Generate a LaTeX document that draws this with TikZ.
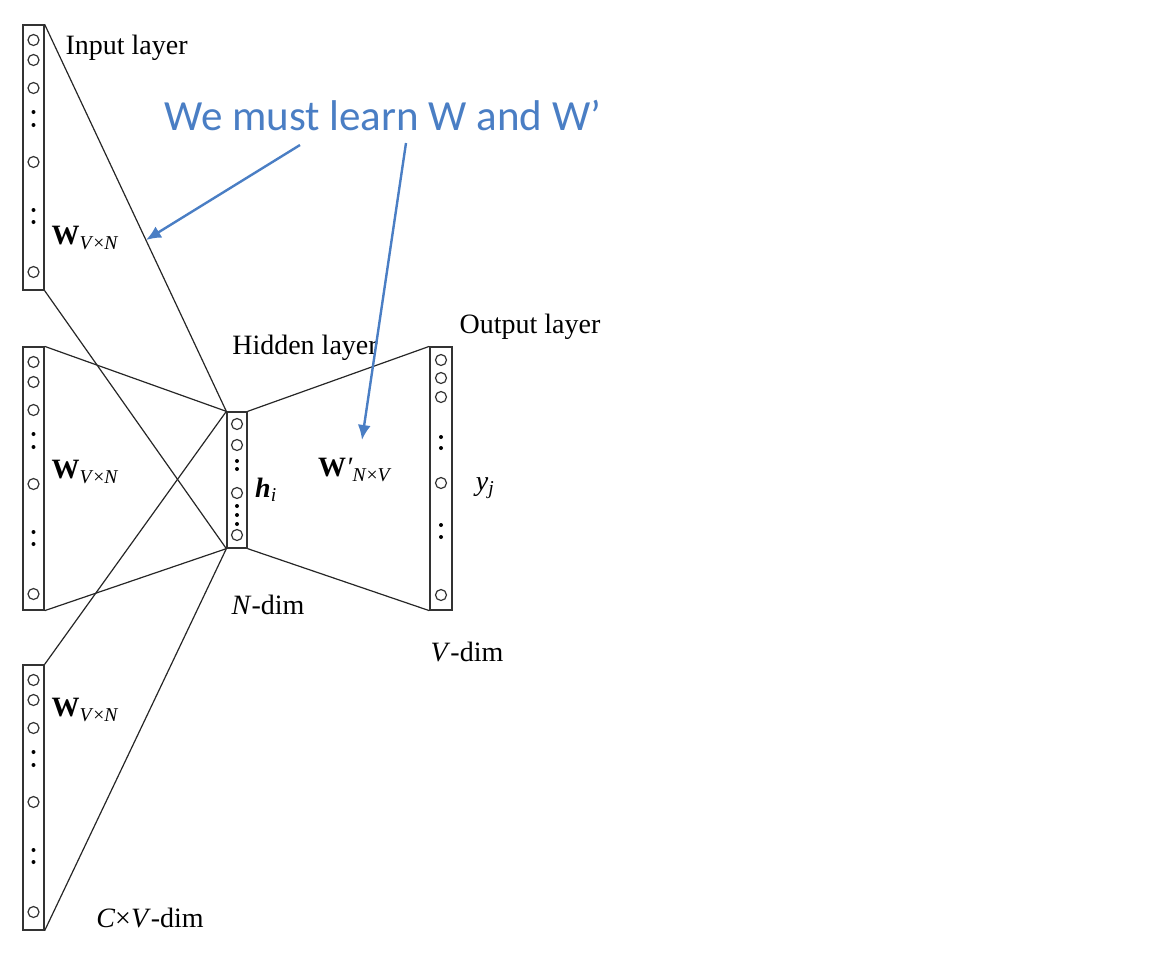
\documentclass[tikz,border=0pt]{standalone}
\usepackage{fontspec}
\setmainfont{Liberation Serif}
\newfontfamily\calib{Carlito}
\usetikzlibrary{arrows.meta}
\definecolor{lblue}{RGB}{74,126,196}
\begin{document}
\begin{tikzpicture}[x=1pt,y=-1pt,
  col/.style={draw=black!80,line width=1.3pt},
  neur/.style={draw=black!80,line width=1.2pt,circle,inner sep=0pt,minimum size=11pt},
  dt/.style={fill,circle,inner sep=0pt,minimum size=4pt},
  wire/.style={line width=1.2pt,draw=black!85},
  lbl/.style={font=\fontsize{28}{32}\selectfont},
  barrow/.style={draw=lblue,line width=2.4pt,-{Latex[length=15pt,width=13pt]}},
  ]
\useasboundingbox (0,0) rectangle (1160,962);
% columns
\node[col,minimum width=21pt,minimum height=265pt,inner sep=0pt] (in1) at (33.5,157.5) {};
\node[col,minimum width=21pt,minimum height=263pt,inner sep=0pt] (in2) at (33.5,478.5) {};
\node[col,minimum width=21pt,minimum height=265pt,inner sep=0pt] (in3) at (33.5,797.5) {};
\node[col,minimum width=20pt,minimum height=136pt,inner sep=0pt] (hid) at (237,480) {};
\node[col,minimum width=22pt,minimum height=263pt,inner sep=0pt] (out) at (441,478.5) {};
% neurons in input columns
\foreach \c/\o in {a/0,b/322,c/640}{
  \foreach \y in {40,60,88,162,272} \node[neur] at (33.5,\y+\o) {};
  \foreach \y in {112,125,210,222} \node[dt] at (33.5,\y+\o) {};
}
\foreach \y in {360,378,397,483,595} \node[neur] at (441,\y) {};
\foreach \y in {437,448,525,537} \node[dt] at (441,\y) {};
\foreach \y in {424,445,493,535} \node[neur] at (237,\y) {};
\foreach \y in {461,469,506,515,524} \node[dt] at (237,\y) {};
% wires
\draw[wire] (in1.north east) -- (hid.north west);
\draw[wire] (in1.south east) -- (hid.south west);
\draw[wire] (in2.north east) -- (hid.north west);
\draw[wire] (in2.south east) -- (hid.south west);
\draw[wire] (in3.north east) -- (hid.north west);
\draw[wire] (in3.south east) -- (hid.south west);
\draw[wire] (hid.north east) -- (out.north west);
\draw[wire] (hid.south east) -- (out.south west);
% labels
\node[lbl,anchor=west] (il) at (62,48) {Input layer};
\node[lbl] (hl) at (305,348) {Hidden layer};
\node[lbl] (ol) at (530,327) {Output layer};
\node[lbl,anchor=west] (w1) at (48,238) {\textbf{W}\textsubscript{\textit{V}×\textit{N}}};
\node[lbl,anchor=west] (w2) at (48,472) {\textbf{W}\textsubscript{\textit{V}×\textit{N}}};
\node[lbl,anchor=west] (w3) at (48,710) {\textbf{W}\textsubscript{\textit{V}×\textit{N}}};
\node[lbl] (h) at (266,490) {\textbf{\textit{h}}\textsubscript{\textit{i}}};
\node[lbl] (wp) at (355,470) {\textbf{W}\textit{′}\textsubscript{\textit{N}×\textit{V}}};
\node[lbl] (yj) at (485,488) {\textit{y}\textsubscript{\textit{j}}};
\node[lbl] (nd) at (268,605) {\textit{N}-dim};
\node[lbl] (vd) at (467,652) {\textit{V}-dim};
\node[lbl] (cvd) at (150,918) {\textit{C}×\textit{V}-dim};
\node[font=\calib\fontsize{43}{46}\selectfont,text=lblue] (t) at (383,115) {We must learn W and W’};
\coordinate (a1) at (300,145);
\coordinate (a1e) at (146,240);
\coordinate (a2) at (406,143);
\coordinate (a2e) at (362,440);
\draw[barrow] (a1) -- (a1e);
\draw[barrow] (a2) -- (a2e);
\end{tikzpicture}
\end{document}
